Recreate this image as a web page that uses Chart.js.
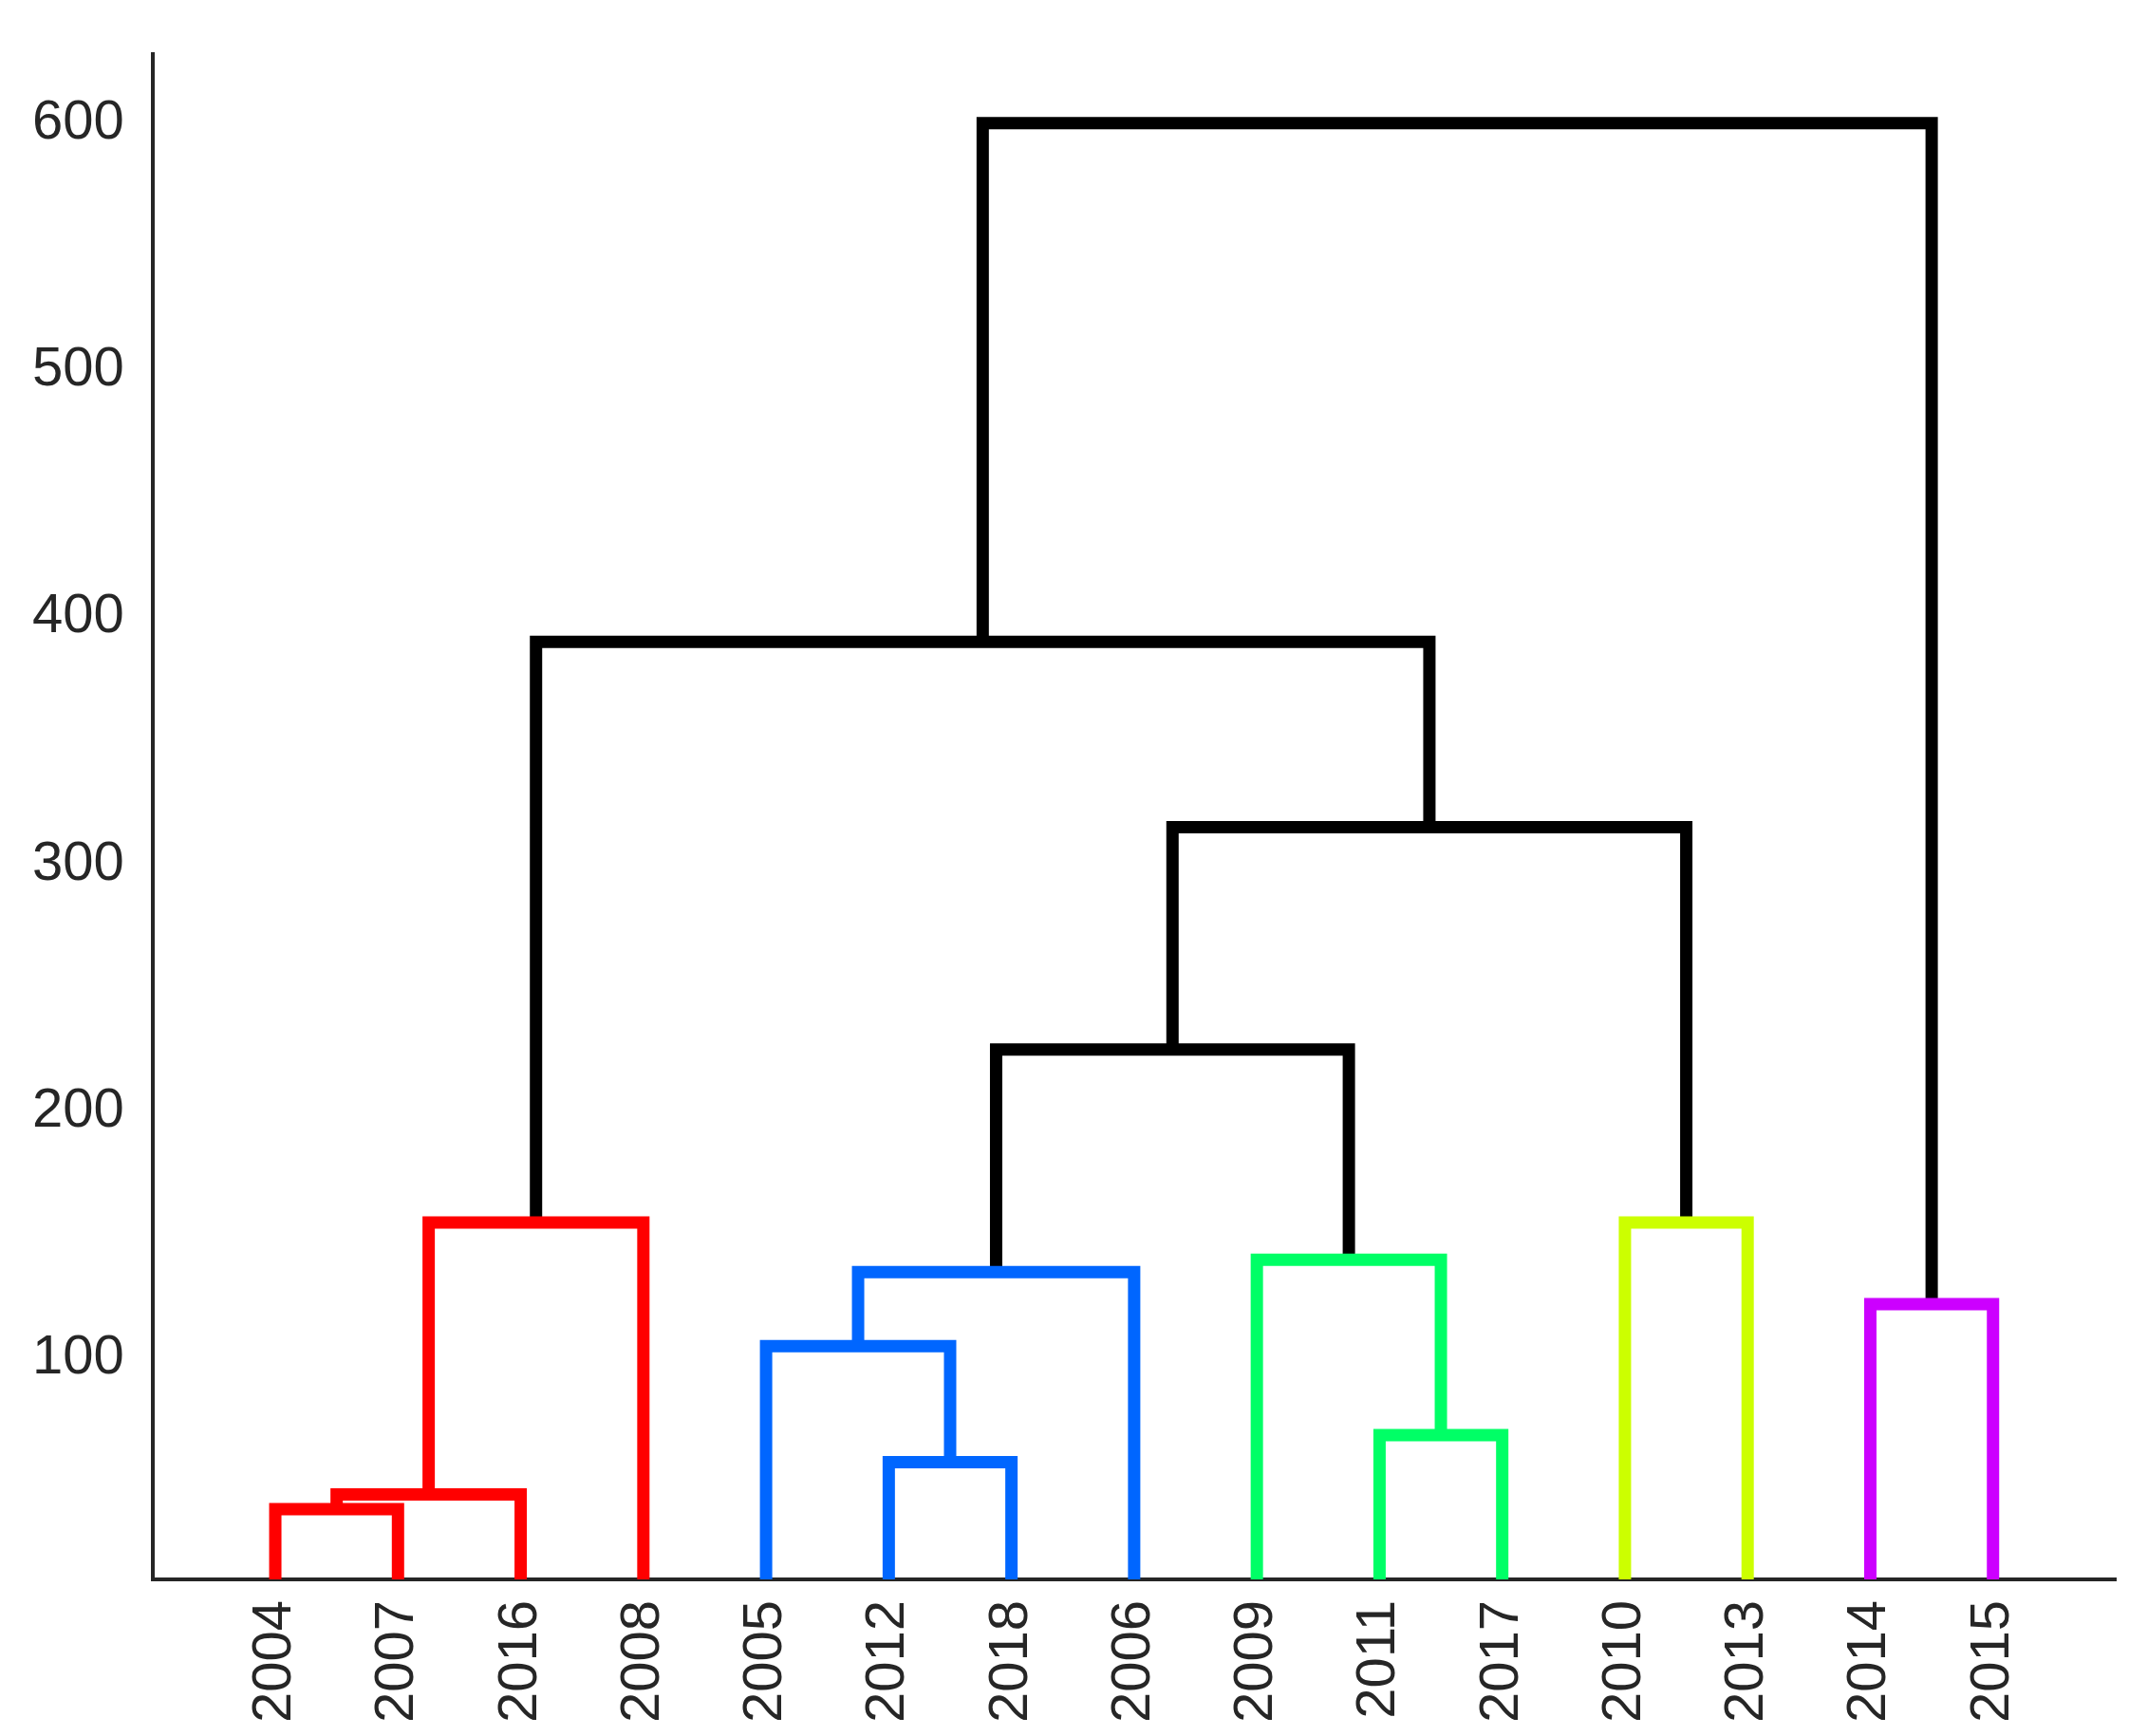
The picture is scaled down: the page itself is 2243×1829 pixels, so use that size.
<!DOCTYPE html>
<html>
<head>
<meta charset="utf-8">
<script src="https://cdn.jsdelivr.net/npm/chart.js@4"></script>
<style>
  html, body { margin: 0; padding: 0; background: #fff; }
  #wrap { width: 2243px; height: 1829px; }
</style>
</head>
<body>
<div id="wrap"><canvas id="dendro"></canvas></div>
<script>
// leaf labels in display order
const leaves = ["2004", "2007", "2016", "2008", "2005", "2012", "2018", "2006",
                "2009", "2011", "2017", "2010", "2013", "2014", "2015"];

// merges: [left, right, height, color]; nodes are leaf labels or "mN" (index of earlier merge)
const merges = [
  ["2004", "2007", 39, "#ff0000"],
  ["m0", "2016", 45, "#ff0000"],
  ["m1", "2008", 155, "#ff0000"],
  ["2012", "2018", 58, "#0066ff"],
  ["2005", "m3", 105, "#0066ff"],
  ["m4", "2006", 135, "#0066ff"],
  ["2011", "2017", 69, "#00ff66"],
  ["2009", "m6", 140, "#00ff66"],
  ["2010", "2013", 155, "#ccff00"],
  ["2014", "2015", 122, "#cc00ff"],
  ["m5", "m7", 225, "#000000"],
  ["m10", "m8", 315, "#000000"],
  ["m2", "m11", 390, "#000000"],
  ["m12", "m9", 600, "#000000"]
];

const yTicks = [100, 200, 300, 400, 500, 600];
const yMin = 10.6, yMax = 628;

// position of a node: [x, y]
const pos = {};
leaves.forEach((l, i) => { pos[l] = [i + 1, yMin]; });

const datasets = merges.map((m, i) => {
  const a = pos[m[0]], b = pos[m[1]];
  pos["m" + i] = [(a[0] + b[0]) / 2, m[2]];
  return {
    data: [{ x: a[0], y: a[1] }, { x: a[0], y: m[2] }, { x: b[0], y: m[2] }, { x: b[0], y: b[1] }],
    borderColor: m[3],
    borderWidth: 13,
    borderCapStyle: "butt",
    borderJoinStyle: "miter",
    showLine: true,
    fill: false,
    pointRadius: 0,
    tension: 0
  };
});

const font = { family: "'Liberation Sans', Arial, sans-serif", size: 58 };

new Chart(document.getElementById("dendro"), {
  type: "scatter",
  data: { datasets },
  options: {
    responsive: true,
    maintainAspectRatio: false,
    animation: false,
    layout: { padding: { top: 0, right: 14, left: 12, bottom: 0 } },
    plugins: { legend: { display: false }, tooltip: { enabled: false } },
    scales: {
      x: {
        type: "linear",
        min: 0,
        max: 16,
        afterBuildTicks: ax => { ax.ticks = leaves.map((_, i) => ({ value: i + 1 })); },
        ticks: {
          autoSkip: false,
          minRotation: 90,
          maxRotation: 90,
          color: "#262626",
          font,
          padding: 14,
          callback: v => leaves[v - 1] || ""
        },
        grid: { display: false },
        border: { display: true, color: "#262626", width: 4 }
      },
      y: {
        type: "linear",
        min: yMin,
        max: yMax,
        afterBuildTicks: ax => { ax.ticks = yTicks.map(v => ({ value: v })); },
        ticks: { color: "#262626", font, padding: 22 },
        grid: { display: false },
        border: { display: true, color: "#262626", width: 4 }
      }
    }
  }
});
</script>
</body>
</html>
